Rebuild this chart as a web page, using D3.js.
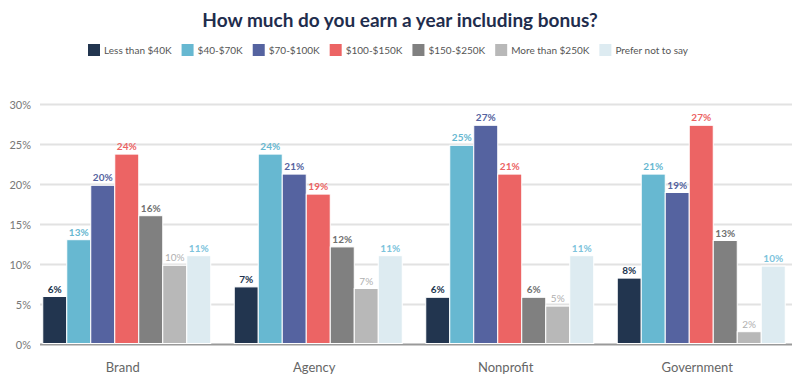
<!DOCTYPE html>
<html>
<head>
<meta charset="utf-8">
<script src="https://cdn.jsdelivr.net/npm/d3@7"></script>
<style>
  body { margin: 0; background: #fff; }
  svg { font-family: Lato, "Open Sans", sans-serif; }
</style>
</head>
<body>
<div id="chart"></div>
<script>
(function(){

// data
var categories = ["Brand", "Agency", "Nonprofit", "Government"];
var seriesNames = ["Less than $40K", "$40-$70K", "$70-$100K", "$100-$150K", "$150-$250K", "More than $250K", "Prefer not to say"];
var brand      = [6.0, 13.1, 19.9, 23.8, 16.1, 9.9, 11.1];
var agency     = [7.2, 23.8, 21.3, 18.8, 12.2, 7.0, 11.1];
var nonprofit  = [5.9, 24.9, 27.4, 21.3, 5.9, 4.8, 11.1];
var government = [8.3, 21.3, 19.0, 27.4, 13.0, 1.6, 9.8];
var yTicks = [0, 5, 10, 15, 20, 25, 30];

var values = [brand, agency, nonprofit, government];
var colors = ["#22354f", "#67b8d1", "#5563a0", "#ec6464", "#808080", "#b8b8b8", "#ddebf1"];
var labelColors = ["#22354f", "#67b8d1", "#5563a0", "#ec6464", "#707070", "#b0b0b0", "#7cc3dc"];

var width = 800, height = 384;

var svg = d3.select("#chart").append("svg")
  .attr("width", width)
  .attr("height", height);

// title
svg.append("text")
  .attr("x", 400)
  .attr("y", 27)
  .attr("text-anchor", "middle")
  .attr("font-size", "19px")
  .attr("font-weight", "bold")
  .attr("fill", "#1f2d4d")
  .text("How much do you earn a year including bonus?");

// scales
var y = d3.scaleLinear().domain([0, 30]).range([344.5, 104.5]);

var x0 = d3.scaleBand()
  .domain(categories)
  .range([31, 797])
  .paddingInner(0.1227)
  .paddingOuter(0.0614);

var x1 = d3.scaleBand()
  .domain(d3.range(seriesNames.length))
  .range([0, x0.bandwidth()]);

// grid
svg.append("g")
  .selectAll("line")
  .data(yTicks)
  .enter()
  .append("line")
    .attr("x1", 40)
    .attr("x2", 792)
    .attr("y1", function(d){ return y(d); })
    .attr("y2", function(d){ return y(d); })
    .attr("stroke", function(d){ return d == 0 ? "#999" : "#e2e2e2"; })
    .attr("stroke-width", 2);

// y labels
svg.append("g")
  .selectAll("text")
  .data(yTicks)
  .enter()
  .append("text")
    .attr("x", 31)
    .attr("y", function(d){ return y(d) + 4; })
    .attr("text-anchor", "end")
    .attr("font-size", "11px")
    .attr("fill", "#777")
    .text(function(d){ return d + "%"; });

// bars
var groups = svg.append("g")
  .selectAll("g")
  .data(categories)
  .enter()
  .append("g")
    .attr("transform", function(d){ return "translate(" + x0(d) + ",0)"; });

groups.selectAll("rect")
  .data(function(d, i){ return values[i]; })
  .enter()
  .append("rect")
    .attr("x", function(d, j){ return x1(j); })
    .attr("y", function(d){ return y(d); })
    .attr("width", x1.bandwidth())
    .attr("height", function(d){ return y(0) - y(d) - 1; })
    .attr("fill", function(d, j){ return colors[j]; })
    .attr("stroke", "#fff")
    .attr("stroke-width", 1);

groups.selectAll("text")
  .data(function(d, i){ return values[i]; })
  .enter()
  .append("text")
    .attr("x", function(d, j){ return x1(j) + x1.bandwidth() / 2; })
    .attr("y", function(d){ return y(d) - 4; })
    .attr("text-anchor", "middle")
    .attr("font-size", "10px")
    .attr("font-weight", function(d, j){ return j == 5 ? "normal" : "bold"; })
    .attr("fill", function(d, j){ return labelColors[j]; })
    .text(function(d){ return Math.round(d) + "%"; });

// category labels
svg.append("g")
  .selectAll("text")
  .data(categories)
  .enter()
  .append("text")
    .attr("x", function(d){ return x0(d) + x0.bandwidth() / 2 - 4; })
    .attr("y", 372)
    .attr("text-anchor", "middle")
    .attr("font-size", "13px")
    .attr("fill", "#666")
    .text(function(d){ return d; });

// legend
var legend = svg.append("g");
var lx = 88;
seriesNames.forEach(function(name, i){
  legend.append("rect")
    .attr("x", lx)
    .attr("y", 44)
    .attr("width", 12)
    .attr("height", 12)
    .attr("fill", colors[i]);
  var t = legend.append("text")
    .attr("x", lx + 16)
    .attr("y", 54)
    .attr("font-size", "10px")
    .attr("fill", "#555")
    .text(name);
  lx += 16 + t.node().getComputedTextLength() + 10;
});

})();
</script>
</body>
</html>
